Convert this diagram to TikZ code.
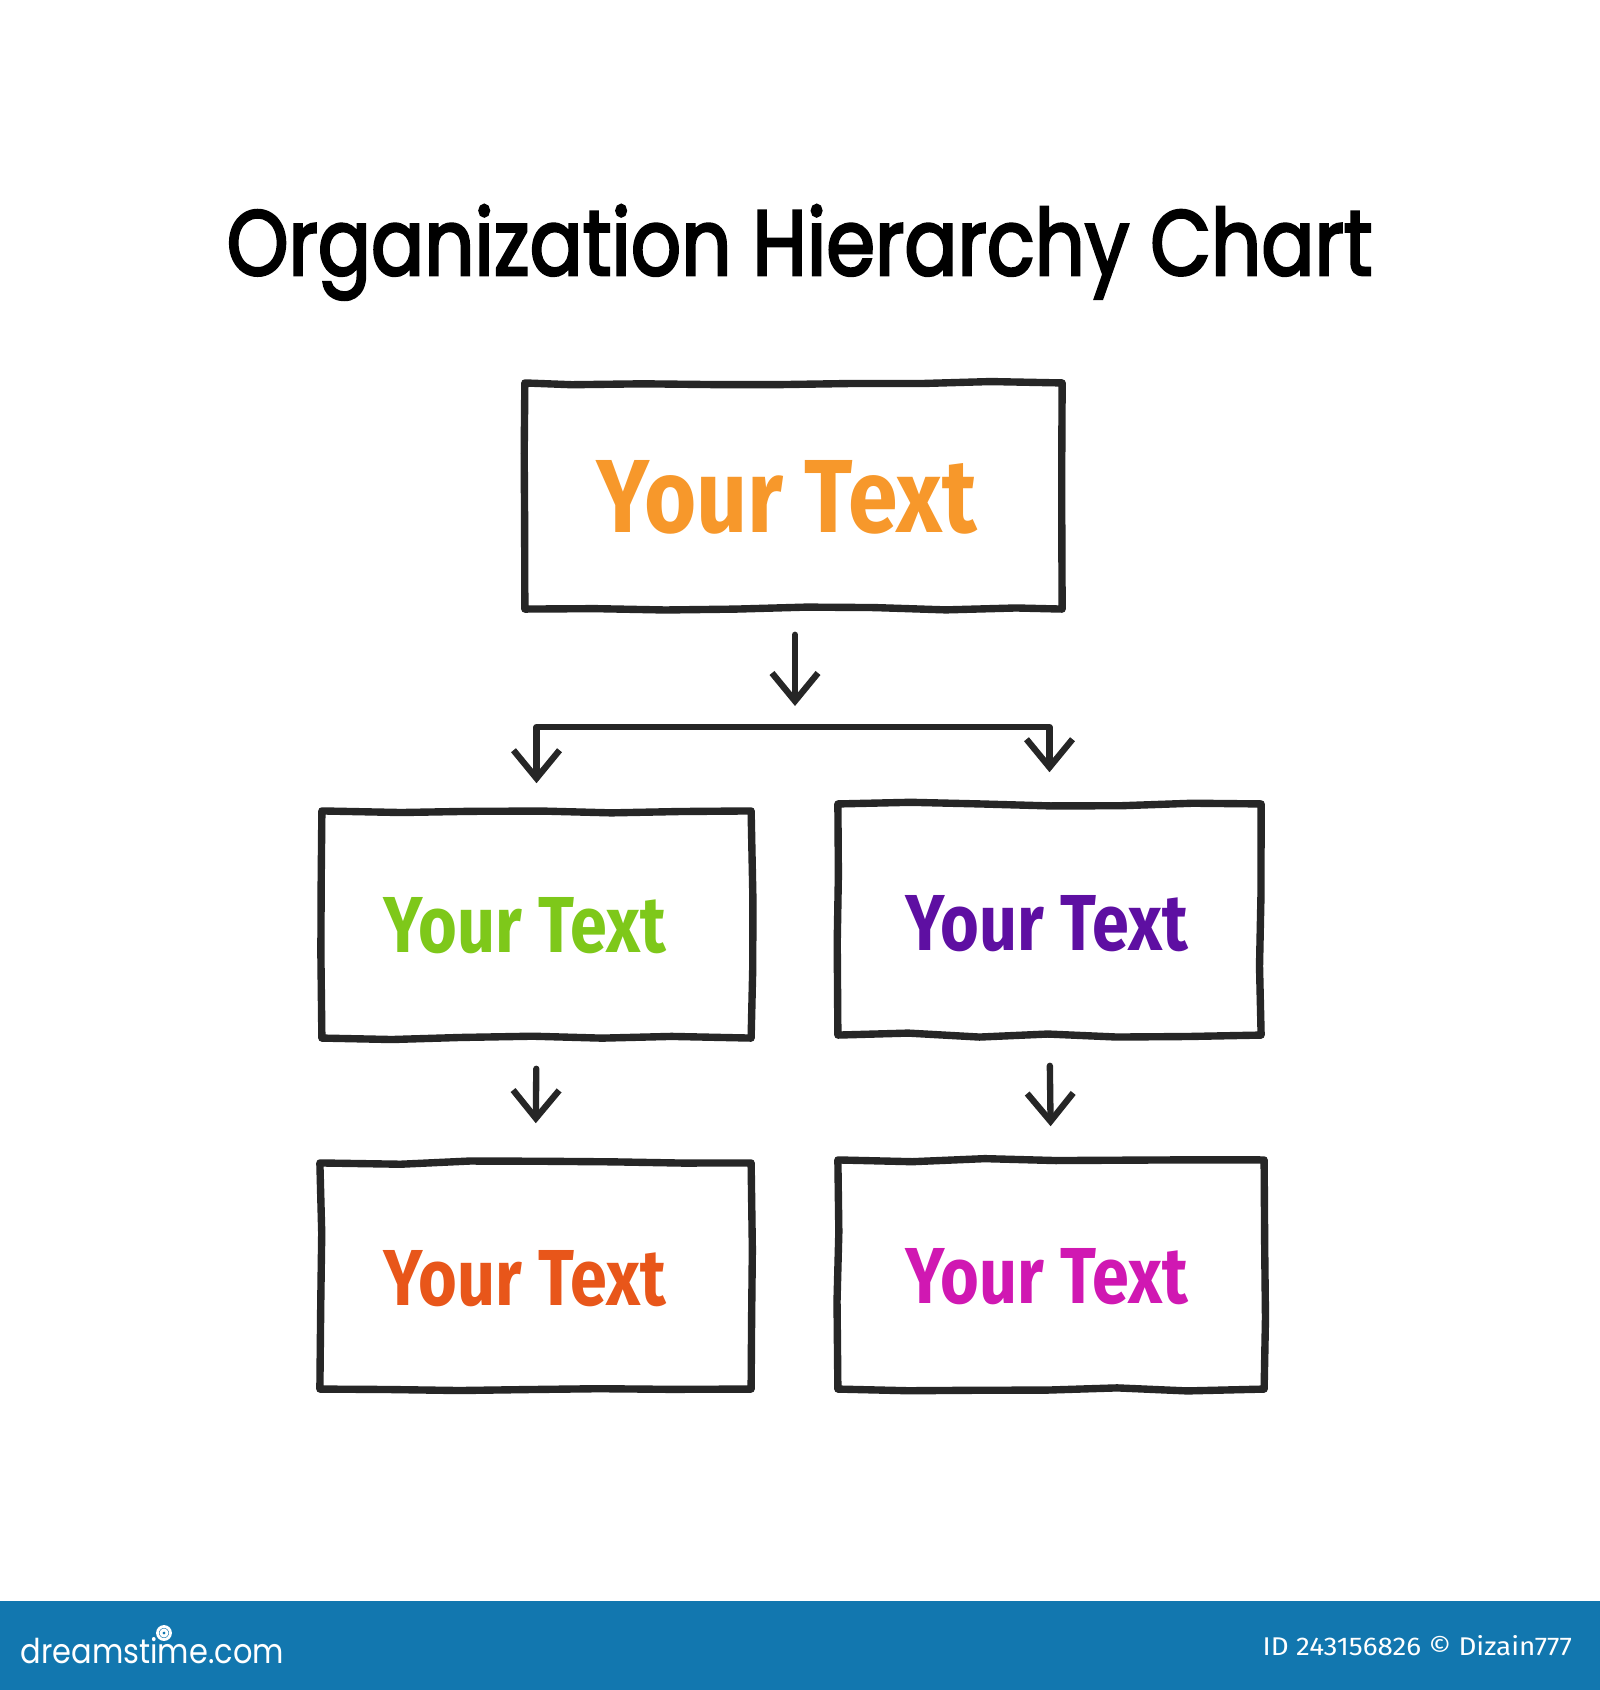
\documentclass[tikz,border=0pt]{standalone}
\usepackage{fontspec}
\setmainfont{Poppins}
\newfontfamily\titlefont{Poppins}[FakeBold=3]
\newfontfamily\boxfont{Fira Sans}
\newfontfamily\fira{Fira Sans}
\usetikzlibrary{arrows.meta,decorations.pathmorphing}
\definecolor{ink}{HTML}{262626}
\definecolor{cOrange}{HTML}{F7982B}
\definecolor{cGreen}{HTML}{7EC81A}
\definecolor{cPurple}{HTML}{5E0FA2}
\definecolor{cRed}{HTML}{E8561A}
\definecolor{cMagenta}{HTML}{D018B2}
\definecolor{footer}{HTML}{1277AF}
\newcommand\fitbox[3]{\resizebox{#1cm}{#2cm}{#3}}
\pgfmathsetseed{7}
\begin{document}
\begin{tikzpicture}[x=0.01cm,y=-0.01cm,
  box/.style 2 args={draw=ink,line width=2.1pt,line join=round,minimum width=#1cm,minimum height=#2cm,inner sep=0pt,
    decorate,decoration={random steps,segment length=0.7cm,amplitude=0.02cm}},
  lab/.style={anchor=base west,inner sep=0pt},
  arr/.style={draw=ink,line width=1.8pt,line cap=round,line join=round,-{Straight Barb[length=0.28cm,width=0.46cm,line width=1.8pt]}}]
\useasboundingbox (0,0) rectangle (1600,1690);
\fill[white] (0,0) rectangle (1600,1690);
% title
\node[lab] (title) at (226,275) {\fitbox{11.45}{0.70}{\titlefont Organization Hierarchy Chart}};
% boxes
\node[box={5.37}{2.26}] (t)  at (793.5,496) {};
\node[box={4.29}{2.27}] (l1) at (536.5,924.5) {};
\node[box={4.23}{2.31}] (r1) at (1049.5,919.5) {};
\node[box={4.31}{2.26}] (l2) at (535.5,1276) {};
\node[box={4.26}{2.29}] (r2) at (1051,1274.5) {};
% texts
\node[lab,text=cOrange]  (tt)  at (596,532)  {\fitbox{3.80}{0.72}{\boxfont\bfseries Your Text}};
\node[lab,text=cGreen]   (tl1) at (383,952)  {\fitbox{2.82}{0.55}{\boxfont\bfseries Your Text}};
\node[lab,text=cPurple]  (tr1) at (905,950)  {\fitbox{2.82}{0.55}{\boxfont\bfseries Your Text}};
\node[lab,text=cRed]     (tl2) at (383,1305) {\fitbox{2.82}{0.55}{\boxfont\bfseries Your Text}};
\node[lab,text=cMagenta] (tr2) at (905,1303) {\fitbox{2.82}{0.55}{\boxfont\bfseries Your Text}};
% connectors
\coordinate (bar) at (795,727);
\draw[arr,shorten <=0.22cm,shorten >=0.21cm] (t.south -| bar) -- (bar);
\draw[arr,shorten >=0.24cm] (bar) -| (l1.north);
\draw[arr,shorten >=0.28cm] (bar) -| (r1.north);
\draw[arr,shorten <=0.27cm,shorten >=0.36cm] (l1.south) -- (l2.north);
\draw[arr,shorten <=0.27cm,shorten >=0.30cm] (r1.south) -- (r2.north);
% footer
\fill[footer] (0,1601) rectangle (1600,1690);
\node[lab,text=white] (logo) at (20,1663) {\fitbox{2.63}{0.26}{dreamstime.com}};
\draw[white,line width=0.8pt] (164,1633) circle (6.5);
\draw[white,line width=0.8pt] (164,1633) circle (3);
\node[lab,text=white] (credit) at (1262,1655) {\fitbox{3.09}{0.20}{\fira ID 243156826 © Dizain777}};
\end{tikzpicture}
\end{document}
